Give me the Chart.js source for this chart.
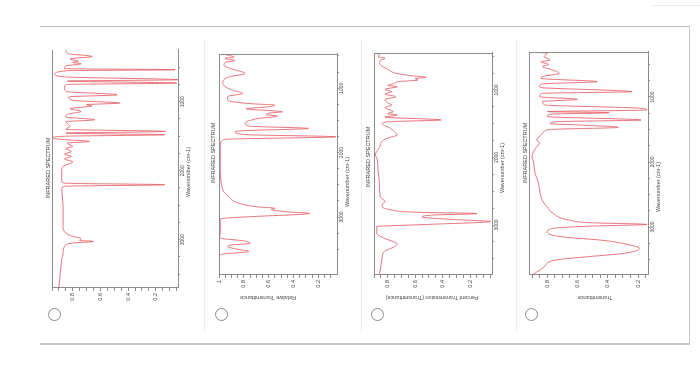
<!DOCTYPE html>
<html>
<head>
<meta charset="utf-8">
<script src="https://cdn.jsdelivr.net/npm/chart.js@4.4.0/dist/chart.umd.min.js"></script>
<style>
  html, body { margin: 0; padding: 0; background: #fff; }
  body { width: 700px; height: 369px; position: relative; overflow: hidden; font-family: 'Liberation Sans', Arial, sans-serif; }
  .frame { position: absolute; left: 40px; top: 26px; width: 649px; height: 316px;
           border-top: 1px solid #bdbdbd; border-right: 1px solid #c8c8c8; border-bottom: 2px solid #c6c6c6; }
  .topline { position: absolute; left: 652px; top: 5px; width: 48px; height: 1px; background: #eee; }
  .divider { position: absolute; top: 40px; height: 292px; width: 1px; background: #ececec; }
  .radio { position: absolute; width: 13px; height: 13px; border: 1px solid #8a8a8a; border-radius: 50%; box-sizing: border-box; }
  .spec { position: absolute; transform: rotate(-90deg); }
  .spec canvas { display: block; }
</style>
</head>
<body>
<div class="frame"></div>
<div class="topline"></div>
<div class="divider" style="left:204px"></div>
<div class="divider" style="left:361px"></div>
<div class="divider" style="left:516px"></div>
<div class="radio" style="left:48px;top:308px"></div>
<div class="radio" style="left:215px;top:308px"></div>
<div class="radio" style="left:371px;top:308px"></div>
<div class="radio" style="left:525px;top:308px"></div>

<div class="spec" id="w1"><canvas id="c1"></canvas></div>
<div class="spec" id="w2"><canvas id="c2"></canvas></div>
<div class="spec" id="w3"><canvas id="c3"></canvas></div>
<div class="spec" id="w4"><canvas id="c4"></canvas></div>

<script>
/* ============================================================
   Four IR spectra, each drawn upright then turned 90deg CCW
   ============================================================ */

// ---- spectrum 1 (wavenumber cm-1 / transmittance) ----
const wn1 = [247, 300, 344, 380, 415, 430, 450, 480, 520, 536, 550, 600, 640, 681, 700, 729, 750, 800, 850, 899,
  930, 980, 1019, 1043, 1060, 1100, 1140, 1160, 1180, 1220, 1261, 1290, 1330, 1360, 1400, 1430, 1455, 1478, 1500, 1526,
  1550, 1575, 1600, 1647, 1680, 1720, 1760, 1792, 1830, 1870, 1937, 2000, 2150, 2180, 2203, 2225, 2260, 2500, 2700, 2807,
  2903, 2952, 2985, 3010, 3024, 3048, 3097, 3200, 3290, 3480, 3700];
const t1 = [0.85, 0.84, 0.66, 0.82, 0.76, 0.80, 0.74, 0.85, 0.86, 0.06, 0.84, 0.93, 0.86, 0.04, 0.84, 0.05, 0.85, 0.86, 0.85, 0.48,
  0.83, 0.80, 0.46, 0.70, 0.66, 0.82, 0.74, 0.78, 0.84, 0.85, 0.64, 0.85, 0.83, 0.82, 0.85, 0.13, 0.85, 0.135, 0.86, 0.95,
  0.85, 0.68, 0.84, 0.80, 0.85, 0.81, 0.86, 0.81, 0.86, 0.80, 0.87, 0.88, 0.88, 0.86, 0.136, 0.86, 0.88, 0.87, 0.87, 0.87,
  0.85, 0.80, 0.74, 0.75, 0.65, 0.80, 0.86, 0.87, 0.88, 0.89, 0.90];

// ---- spectrum 2 ----
const wn2 = [470, 488, 515, 540, 570, 600, 643, 700, 772, 830, 927, 1000, 1031, 1083, 1130, 1186, 1240, 1264, 1289, 1320,
  1367, 1383, 1410, 1434, 1470, 1548, 1590, 1625, 1660, 1677, 1720, 1755, 1790, 1806, 1900, 2200, 2581, 2684, 2780, 2840,
  2865, 2880, 2920, 2943, 2960, 2990, 3030, 3124, 3250, 3305, 3331, 3370, 3408, 3440, 3460, 3500, 3537, 3570, 3615, 3900];
const t2 = [0.96, 0.93, 0.88, 0.95, 0.87, 0.95, 0.96, 0.90, 0.79, 0.93, 0.97, 0.93, 0.89, 0.81, 0.93, 0.93, 0.75, 0.55, 0.60, 0.78,
  0.49, 0.58, 0.62, 0.53, 0.68, 0.79, 0.75, 0.28, 0.80, 0.87, 0.80, 0.06, 0.90, 0.97, 0.99, 0.99, 0.97, 0.92, 0.85, 0.70,
  0.55, 0.58, 0.45, 0.27, 0.35, 0.70, 0.99, 0.99, 0.99, 0.995, 0.98, 0.80, 0.75, 0.92, 0.93, 0.85, 0.76, 0.95, 1.0, 1.0];

// ---- spectrum 3 ----
const wn3 = [457, 480, 507, 530, 556, 605, 650, 704, 740, 760, 790, 813, 830, 852, 875, 901, 930, 951, 990, 1025,
  1060, 1099, 1140, 1190, 1222, 1260, 1321, 1350, 1370, 1400, 1444, 1470, 1500, 1567, 1620, 1666, 1700, 1740, 1850, 1962,
  2000, 2200, 2400, 2579, 2653, 2690, 2727, 2776, 2810, 2830, 2850, 2880, 2920, 2948, 2990, 3023, 3121, 3200, 3245, 3280,
  3319, 3400, 3467, 3600, 3738];
const t3 = [0.88, 0.86, 0.87, 0.82, 0.85, 0.86, 0.84, 0.79, 0.76, 0.72, 0.62, 0.52, 0.60, 0.58, 0.72, 0.75, 0.80, 0.73, 0.82, 0.77,
  0.82, 0.74, 0.82, 0.80, 0.77, 0.82, 0.76, 0.80, 0.73, 0.82, 0.41, 0.80, 0.84, 0.78, 0.75, 0.73, 0.78, 0.83, 0.86, 0.89,
  0.88, 0.87, 0.86, 0.855, 0.82, 0.84, 0.84, 0.77, 0.60, 0.15, 0.45, 0.55, 0.30, 0.05, 0.50, 0.88, 0.88, 0.82, 0.76, 0.73,
  0.75, 0.83, 0.84, 0.85, 0.86];

// ---- spectrum 4 ----
const wn4 = [310, 330, 380, 431, 460, 500, 533, 580, 636, 680, 713, 764, 800, 850, 918, 944, 995, 1036, 1070, 1120,
  1175, 1200, 1225, 1241, 1265, 1300, 1354, 1380, 1410, 1431, 1467, 1500, 1534, 1600, 1662, 1700, 1800, 1919, 2000, 2175,
  2300, 2432, 2600, 2689, 2792, 2895, 2935, 2960, 2985, 3020, 3074, 3151, 3200, 3253, 3330, 3407, 3460, 3510, 3613, 3741];
const t4 = [0.87, 0.80, 0.82, 0.78, 0.84, 0.79, 0.83, 0.77, 0.72, 0.82, 0.84, 0.47, 0.84, 0.85, 0.24, 0.83, 0.85, 0.60, 0.83, 0.82,
  0.17, 0.14, 0.80, 0.39, 0.78, 0.80, 0.18, 0.74, 0.78, 0.58, 0.33, 0.78, 0.82, 0.85, 0.87, 0.85, 0.88, 0.90, 0.89, 0.88,
  0.86, 0.85, 0.83, 0.80, 0.76, 0.65, 0.50, 0.14, 0.50, 0.76, 0.80, 0.70, 0.45, 0.30, 0.19, 0.30, 0.55, 0.75, 0.82, 0.90];

// ---- axis ticks ----
const wnTicks = [500, 750, 1000, 1250, 1500, 1750, 2000, 2250, 2500, 2750, 3000, 3250, 3500];
const wnLabels = [1000, 2000, 3000];
const tTicks = [0.05, 0.1, 0.15, 0.2, 0.25, 0.3, 0.35, 0.4, 0.45, 0.5, 0.55, 0.6, 0.65, 0.7, 0.75, 0.8, 0.85, 0.9, 0.95, 1];
const tLabels = [0.2, 0.4, 0.6, 0.8];
const tLabels2 = [0.2, 0.4, 0.6, 0.8, 1];

const titleText = 'INFRARED SPECTRUM';
const xTitleText = 'Wavenumber (cm-1)';

// page boxes: box = [left, right, top, bottom] of the turned canvas, plot = same for the plot frame
// (box sizes kept even/even or odd/odd so the turned canvas stays on whole pixels)
const specs = [
  { id: 1, wn: wn1, t: t1, wnMin: 250, wnMax: 3700, tMin: 0.04, tMax: 0.95, tLab: tLabels,
    box: [42, 192, 44, 306], plot: [52, 178, 50, 288], title: [48, 168], xTitle: [188, 172],
    yTitle: null, closed: false },
  { id: 2, wn: wn2, t: t2, wnMin: 470, wnMax: 3900, tMin: 0.05, tMax: 1.0, tLab: tLabels2,
    box: [205, 353, 47, 303], plot: [219, 337, 54, 275], title: [213, 153], xTitle: [347, 182],
    yTitle: ['Relative Transmittance', 268, 298], closed: true },
  { id: 3, wn: wn3, t: t3, wnMin: 452, wnMax: 3740, tMin: 0.04, tMax: 0.90, tLab: tLabels,
    box: [360, 508, 47, 303], plot: [374, 492, 53, 275], title: [368, 157], xTitle: [502, 168],
    yTitle: ['Percent Transmission (Transmittance)', 432, 298], closed: true },
  { id: 4, wn: wn4, t: t4, wnMin: 308, wnMax: 3738, tMin: 0.134, tMax: 0.92, tLab: tLabels,
    box: [516, 665, 46, 303], plot: [529, 648, 52, 275], title: [525, 153], xTitle: [658, 187],
    yTitle: ['Transmittance', 595, 298], closed: true },
];

const FONT = "'Liberation Sans', Arial, sans-serif";
const TXT = '#4a4a4a';
const AXIS = '#8c8c8c';

// draws titles (given in page coords) and the extra frame sides
const specLabels = {
  id: 'specLabels',
  afterDraw(chart, args, o) {
    const ctx = chart.ctx;
    const a = chart.chartArea;
    const toU = (py) => o.py1 - py;
    const toV = (px) => px - o.px0;
    ctx.save();
    ctx.strokeStyle = AXIS;
    ctx.lineWidth = 1;
    ctx.beginPath();
    ctx.moveTo(a.left, Math.round(a.top) + 0.5);
    ctx.lineTo(a.right, Math.round(a.top) + 0.5);
    if (o.closed) {
      ctx.moveTo(Math.round(a.right) - 0.5, a.top);
      ctx.lineTo(Math.round(a.right) - 0.5, a.bottom);
    }
    ctx.stroke();

    ctx.fillStyle = TXT;
    ctx.font = '5.5px ' + FONT;
    ctx.textAlign = 'center';
    ctx.textBaseline = 'middle';
    ctx.fillText(titleText, toU(o.title[1]), toV(o.title[0]));
    ctx.fillText(xTitleText, toU(o.xTitle[1]), toV(o.xTitle[0]));
    if (o.yTitle) {
      ctx.translate(toU(o.yTitle[2]), toV(o.yTitle[1]));
      ctx.rotate(-Math.PI / 2);
      ctx.fillText(o.yTitle[0], 0, 0);
    }
    ctx.restore();
  }
};

function buildSpectrum(s) {
  const [px0, px1, py0, py1] = s.box;
  const [x0, x1, y0, y1] = s.plot;
  const W = py1 - py0;   // canvas width  -> page height
  const H = px1 - px0;   // canvas height -> page width
  const wrap = document.getElementById('w' + s.id);
  wrap.style.width = W + 'px';
  wrap.style.height = H + 'px';
  wrap.style.left = ((px0 + px1) / 2 - W / 2) + 'px';
  wrap.style.top = ((py0 + py1) / 2 - H / 2) + 'px';
  const canvas = document.getElementById('c' + s.id);
  canvas.width = W;
  canvas.height = H;

  const xAxisH = px1 - x1;
  const yAxisW = py1 - y1;

  new Chart(canvas, {
    type: 'line',
    data: {
      datasets: [{
        data: s.wn.map((w, i) => ({ x: w, y: s.t[i] })),
        borderColor: 'rgba(226,84,94,0.8)',
        borderWidth: 1,
        pointRadius: 0,
        fill: false,
        cubicInterpolationMode: 'monotone',
      }]
    },
    options: {
      responsive: false,
      animation: false,
      devicePixelRatio: 1,
      layout: { padding: { top: x0 - px0, right: y0 - py0, left: 0, bottom: 0 } },
      plugins: {
        legend: { display: false },
        tooltip: { enabled: false },
        specLabels: { px0, py1, title: s.title, xTitle: s.xTitle, yTitle: s.yTitle, closed: s.closed },
      },
      scales: {
        x: {
          type: 'linear', reverse: true, min: s.wnMin, max: s.wnMax,
          afterBuildTicks: (sc) => { sc.ticks = wnTicks.filter(v => v > s.wnMin && v < s.wnMax).map(v => ({ value: v })); },
          afterFit: (sc) => { sc.height = xAxisH; },
          ticks: { autoSkip: false, maxRotation: 0, padding: 0, color: TXT, font: { size: 5, family: FONT },
                   callback: (v) => wnLabels.includes(v) ? String(v) : '' },
          grid: { drawOnChartArea: false, tickLength: 2, color: AXIS },
          border: { color: AXIS },
        },
        y: {
          type: 'linear', min: s.tMin, max: s.tMax,
          afterBuildTicks: (sc) => { sc.ticks = tTicks.filter(v => v > s.tMin && v <= s.tMax).map(v => ({ value: v })); },
          afterFit: (sc) => { sc.width = yAxisW; },
          ticks: { autoSkip: false, padding: 2, color: TXT, font: { size: 5.5, family: FONT },
                   callback: (v) => s.tLab.includes(v) ? String(v) : '' },
          grid: { drawOnChartArea: false, tickLength: 3, color: AXIS },
          border: { color: AXIS },
        }
      }
    },
    plugins: [specLabels]
  });
}

specs.forEach(buildSpectrum);
</script>
</body>
</html>
